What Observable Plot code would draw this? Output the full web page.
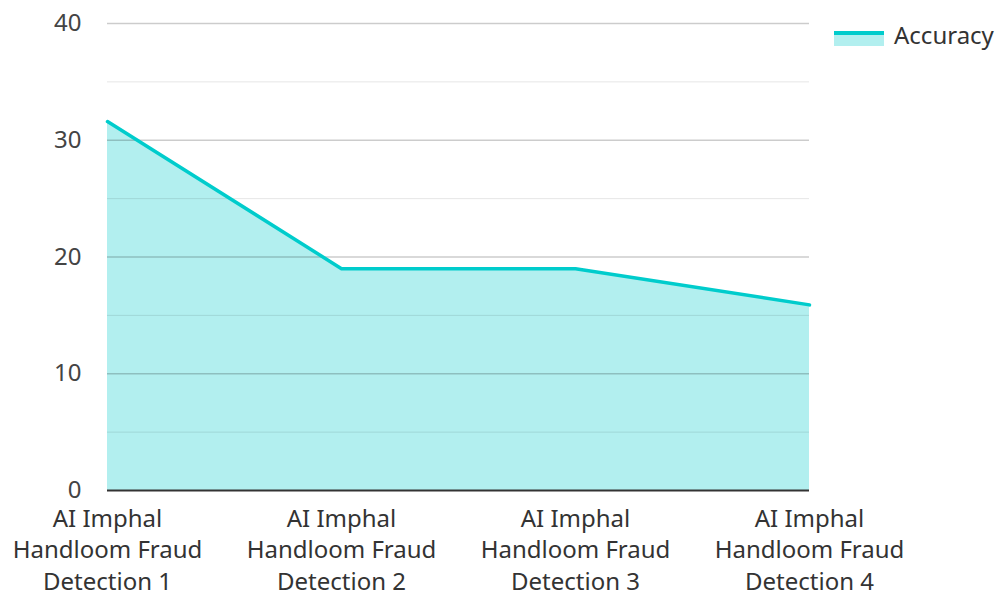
<!DOCTYPE html>
<html><head><meta charset="utf-8">
<script src="https://cdn.jsdelivr.net/npm/d3@7"></script>
<script src="https://cdn.jsdelivr.net/npm/@observablehq/plot@0.6"></script>
<style>
body{margin:0;background:#fff;font-family:"Noto Sans",sans-serif;}
#wrap{position:relative;width:999px;height:594px;}
#legend{position:absolute;left:834px;top:19px;display:flex;align-items:center;font-size:24px;color:#333;line-height:32px;}
#legend .sw{width:50px;height:15px;background:#b2efef;border-top:4px solid #00cccc;box-sizing:border-box;margin-right:10px;margin-top:6px;}
</style></head>
<body><div id="wrap"><div id="legend"><div class="sw"></div><span>Accuracy</span></div></div>
<script>
const categories = ["AI Imphal Handloom Fraud Detection 1","AI Imphal Handloom Fraud Detection 2","AI Imphal Handloom Fraud Detection 3","AI Imphal Handloom Fraud Detection 4"];
const tickLabels = ["AI Imphal\nHandloom Fraud\nDetection 1","AI Imphal\nHandloom Fraud\nDetection 2","AI Imphal\nHandloom Fraud\nDetection 3","AI Imphal\nHandloom Fraud\nDetection 4"];
const accuracy = [31.6, 19, 19, 15.9];
const majorTicks = [0,10,20,30,40];
const minorTicks = [5,15,25,35];
const data = categories.map((c,i)=>({c, v: accuracy[i]}));
const chart = Plot.plot({
  width: 999, height: 594,
  marginLeft: 107, marginRight: 190, marginTop: 23, marginBottom: 104,
  style: {fontFamily: '"Noto Sans", sans-serif', fontSize: "24px", color: "#444", background: "#fff"},
  x: {type: "point", domain: categories, padding: 0},
  y: {domain: [0, 40]},
  marks: [
    Plot.areaY(data, {x: "c", y: "v", fill: "#b2efef"}),
    Plot.ruleY(minorTicks, {stroke: "#000", strokeOpacity: 0.1, strokeWidth: 1}),
    Plot.ruleY(majorTicks.slice(1), {stroke: "#000", strokeOpacity: 0.2, strokeWidth: 1.5}),
    Plot.lineY(data, {x: "c", y: "v", stroke: "#00cccc", strokeWidth: 3.5}),
    Plot.ruleY([0], {stroke: "#333", strokeWidth: 2}),
    Plot.axisY({ticks: majorTicks, tickSize: 0, tickPadding: 26, fontSize: 24, fill: "#444", label: null}),
    Plot.axisX({tickSize: 0, tickPadding: 14, fontSize: 24, fill: "#333", lineHeight: 1.31, label: null,
      tickFormat: (d) => tickLabels[categories.indexOf(d)]})
  ]
});
document.getElementById("wrap").prepend(chart);
</script></body></html>
